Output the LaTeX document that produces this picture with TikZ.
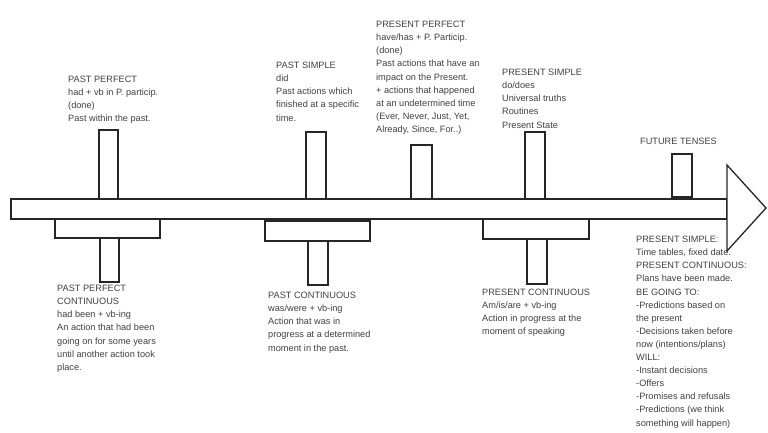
\documentclass[tikz,border=0pt]{standalone}
\usepackage{fontspec}
\setmainfont{Liberation Sans}
\begin{document}
\begin{tikzpicture}[x=1pt,y=-1pt,
  bx/.style={draw=black!85,line width=1.3pt,fill=white},
  txt/.style={anchor=north west,align=left,inner sep=0pt,text=black!75,font=\fontsize{9.2}{13.1}\selectfont}]
\useasboundingbox (0,0) rectangle (768,432);
% vertical bars above
\draw[bx] (99,130) rectangle (118,199);
\draw[bx] (306,132) rectangle (326,199);
\draw[bx] (411,145) rectangle (432,199);
\draw[bx] (525,132) rectangle (545,199);
\draw[bx] (672,154) rectangle (692,197);
% lower
\draw[bx] (100,238) rectangle (119,282);
\draw[bx] (308,240) rectangle (328,285);
\draw[bx] (527,239) rectangle (547,284);
\draw[bx] (55,219) rectangle (160,238);
\draw[bx] (265,221) rectangle (370,241);
\draw[bx] (483,219) rectangle (589,239);
% main bar and arrowhead
\draw[bx] (11,199) rectangle (727,219);
\draw[bx,line join=miter] (727,165) -- (766,208) -- (727,251) -- cycle;
% texts
\node[txt] (pp) at (68,76) {PAST PERFECT\\had + vb in P. particip.\\(done)\\Past within the past.};
\node[txt] (ps) at (276,62) {PAST SIMPLE\\did\\Past actions which\\finished at a specific\\time.};
\node[txt] (prp) at (376,21) {PRESENT PERFECT\\have/has + P. Particip.\\(done)\\Past actions that have an\\impact on the Present.\\+ actions that happened\\at an undetermined time\\(Ever, Never, Just, Yet,\\Already, Since, For..)};
\node[txt] (prs) at (502,69) {PRESENT SIMPLE\\do/does\\Universal truths\\Routines\\Present State};
\node[txt] (ft) at (640,138) {FUTURE TENSES};
\node[txt] (ppc) at (57,285) {PAST PERFECT\\CONTINUOUS\\had been + vb-ing\\An action that had been\\going on for some years\\until another action took\\place.};
\node[txt] (pc) at (268,292) {PAST CONTINUOUS\\was/were + vb-ing\\Action that was in\\progress at a determined\\moment in the past.};
\node[txt] (prc) at (482,289) {PRESENT CONTINUOUS\\Am/is/are + vb-ing\\Action in progress at the\\moment of speaking};
\node[txt] (fut) at (636,236) {PRESENT SIMPLE:\\Time tables, fixed date.\\PRESENT CONTINUOUS:\\Plans have been made.\\BE GOING TO:\\-Predictions based on\\the present\\-Decisions taken before\\now (intentions/plans)\\WILL:\\-Instant decisions\\-Offers\\-Promises and refusals\\-Predictions (we think\\something will happen)};
\end{tikzpicture}
\end{document}
